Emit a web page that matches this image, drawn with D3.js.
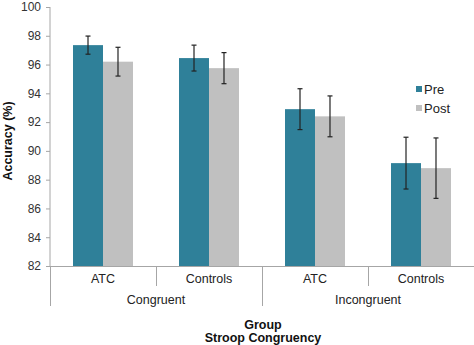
<!DOCTYPE html>
<html>
<head>
<meta charset="utf-8">
<script src="https://cdn.jsdelivr.net/npm/d3@7"></script>
<style>
  body { margin: 0; background: #fff; }
  text { font-family: Arial, "Liberation Sans", sans-serif; }
</style>
</head>
<body>
<svg class="chart"></svg>
<script>
// data
var congruency = ["Congruent", "Congruent", "Incongruent", "Incongruent"];
var groups = ["ATC", "Controls", "ATC", "Controls"];
var series = ["Pre", "Post"];
var preValues = [97.35, 96.45, 92.9, 89.15];
var postValues = [96.2, 95.75, 92.4, 88.8];
var preErrors = [0.63, 0.9, 1.42, 1.8];
var postErrors = [1.0, 1.08, 1.42, 2.1];
var yTicks = [82, 84, 86, 88, 90, 92, 94, 96, 98, 100];

function show() {
    'use strict';
    var width = 474, height = 345;
    var left = 50, right = 474, top = 7, bottom = 266;

    var svg = d3.select(".chart")
        .attr("width", width)
        .attr("height", height);

    var colors = {Pre: "#2f8099", Post: "#c0c0c0"};
    var axisColor = "#a6a6a6";

    var idx = d3.range(groups.length);
    var x = d3.scaleBand().domain(idx).range([left, right]).paddingInner(0).paddingOuter(0);
    var xSub = d3.scaleBand().domain(series).range([0, x.bandwidth()]).paddingInner(0).paddingOuter(0.767);
    var y = d3.scaleLinear().domain([82, 100]).range([bottom, top]);

    var flat = d3.merge(idx.map(function(i) {
        return [
            {i: i, s: "Pre", v: preValues[i], e: preErrors[i]},
            {i: i, s: "Post", v: postValues[i], e: postErrors[i]}
        ];
    }));

    // y axis
    var yAxis = d3.axisLeft(y).tickValues(yTicks).tickSize(4).tickPadding(5);
    var gy = svg.append("g").attr("transform", "translate(" + left + ",0)").call(yAxis);
    gy.select(".domain").attr("stroke", axisColor).attr("d", "M0," + top + "V" + bottom);
    gy.selectAll(".tick line").attr("stroke", axisColor);
    gy.selectAll(".tick text").attr("font-size", 12).attr("fill", "#333")
        .attr("font-family", "Arial, 'Liberation Sans', sans-serif");

    // bars
    svg.append("g").selectAll("rect").data(flat).enter()
        .append("rect")
        .attr("x", function(d) { return x(d.i) + xSub(d.s); })
        .attr("width", xSub.bandwidth())
        .attr("y", function(d) { return y(d.v); })
        .attr("height", function(d) { return y(82) - y(d.v); })
        .attr("fill", function(d) { return colors[d.s]; });

    // error bars
    var cx = function(d) { return x(d.i) + xSub(d.s) + xSub.bandwidth() / 2; };
    var eb = svg.append("g").attr("stroke", "#222").attr("stroke-width", 1.2)
        .selectAll("g").data(flat).enter().append("g");
    eb.append("line")
        .attr("x1", cx).attr("x2", cx)
        .attr("y1", function(d) { return y(d.v + d.e); })
        .attr("y2", function(d) { return y(d.v - d.e); });
    [1, -1].forEach(function(sign) {
        eb.append("line")
            .attr("x1", function(d) { return cx(d) - 2.5; })
            .attr("x2", function(d) { return cx(d) + 2.5; })
            .attr("y1", function(d) { return y(d.v + sign * d.e); })
            .attr("y2", function(d) { return y(d.v + sign * d.e); });
    });

    // x axis baseline and dividers
    var gx = svg.append("g").attr("stroke", axisColor).attr("stroke-width", 1);
    gx.append("line").attr("x1", left).attr("x2", right).attr("y1", bottom + 0.5).attr("y2", bottom + 0.5);
    gx.append("line").attr("x1", left + 0.5).attr("x2", left + 0.5).attr("y1", bottom).attr("y2", 306);
    idx.slice(1).forEach(function(i) {
        var long = congruency[i] !== congruency[i - 1];
        gx.append("line")
            .attr("x1", Math.round(x(i)) + 0.5).attr("x2", Math.round(x(i)) + 0.5)
            .attr("y1", bottom).attr("y2", long ? 306 : 286);
    });

    // group labels
    svg.append("g").selectAll("text").data(idx).enter()
        .append("text")
        .attr("x", function(i) { return x(i) + x.bandwidth() / 2; })
        .attr("y", 283)
        .attr("text-anchor", "middle")
        .attr("font-size", 12.5)
        .attr("fill", "#222")
        .text(function(i) { return groups[i]; });

    // congruency labels
    var conds = ["Congruent", "Incongruent"];
    svg.append("g").selectAll("text").data(conds).enter()
        .append("text")
        .attr("x", function(c) {
            var ii = idx.filter(function(i) { return congruency[i] === c; });
            return (x(ii[0]) + x(ii[ii.length - 1]) + x.bandwidth()) / 2;
        })
        .attr("y", 304)
        .attr("text-anchor", "middle")
        .attr("font-size", 12.5)
        .attr("fill", "#222")
        .text(function(c) { return c; });

    // axis titles
    svg.append("text").attr("x", 263).attr("y", 329).attr("text-anchor", "middle")
        .attr("font-size", 12.5).attr("font-weight", "bold").attr("fill", "#111").text("Group");
    svg.append("text").attr("x", 263).attr("y", 342).attr("text-anchor", "middle")
        .attr("font-size", 12.5).attr("font-weight", "bold").attr("fill", "#111").text("Stroop Congruency");
    svg.append("text")
        .attr("transform", "translate(12,141) rotate(-90)")
        .attr("text-anchor", "middle")
        .attr("font-size", 12.5).attr("font-weight", "bold").attr("fill", "#111")
        .text("Accuracy (%)");

    // legend
    var legend = svg.append("g").selectAll("g").data(series).enter()
        .append("g")
        .attr("transform", function(d, i) { return "translate(416," + (89 + i * 19) + ")"; });
    legend.append("rect").attr("x", 0).attr("y", -3).attr("width", 6).attr("height", 6)
        .attr("fill", function(d) { return colors[d]; });
    legend.append("text").attr("x", 8).attr("y", 4.5)
        .attr("font-size", 13).attr("fill", "#222")
        .text(function(d) { return d; });
}
show();
</script>
</body>
</html>
